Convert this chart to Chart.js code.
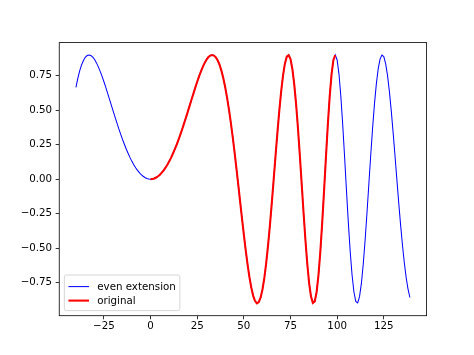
<!DOCTYPE html>
<html><head><meta charset="utf-8">
<script src="https://cdn.jsdelivr.net/npm/chart.js@4"></script>
<style>html,body{margin:0;padding:0;background:#fff}#wrap{width:474px;height:355px}</style>
</head><body><div id="wrap"><canvas id="c" width="474" height="355"></canvas></div>
<script>
// ---- data ----
const originalStart = 0;
const original = [0, 0.001, 0.005, 0.012, 0.021, 0.032, 0.047, 0.064, 0.083, 0.105,
  0.129, 0.156, 0.186, 0.217, 0.251, 0.287, 0.325, 0.364, 0.406, 0.448,
  0.491, 0.535, 0.579, 0.622, 0.665, 0.706, 0.745, 0.781, 0.814, 0.843,
  0.867, 0.885, 0.896, 0.900, 0.896, 0.883, 0.860, 0.828, 0.785, 0.731,
  0.666, 0.591, 0.506, 0.411, 0.308, 0.197, 0.080, -0.040, -0.163, -0.285,
  -0.403, -0.516, -0.619, -0.711, -0.787, -0.846, -0.884, -0.900, -0.891, -0.858,
  -0.798, -0.714, -0.606, -0.476, -0.330, -0.169, 0.000, 0.172, 0.339, 0.497,
  0.636, 0.752, 0.837, 0.888, 0.899, 0.870, 0.799, 0.689, 0.544, 0.369,
  0.173, -0.035, -0.244, -0.441, -0.615, -0.756, -0.852, -0.897, -0.886, -0.818,
  -0.695, -0.524, -0.315, -0.082, 0.160, 0.393, 0.598, 0.760, 0.864, 0.900];

const extensionStart = -40;
const evenExtension = [
  0.666, 0.731, 0.785, 0.828, 0.860, 0.883, 0.896, 0.900, 0.896, 0.885,
  0.867, 0.843, 0.814, 0.781, 0.745, 0.706, 0.665, 0.622, 0.579, 0.535,
  0.491, 0.448, 0.406, 0.364, 0.325, 0.287, 0.251, 0.217, 0.186, 0.156,
  0.129, 0.105, 0.083, 0.064, 0.047, 0.032, 0.021, 0.012, 0.005, 0.001,
  0, 0.001, 0.005, 0.012, 0.021, 0.032, 0.047, 0.064, 0.083, 0.105,
  0.129, 0.156, 0.186, 0.217, 0.251, 0.287, 0.325, 0.364, 0.406, 0.448,
  0.491, 0.535, 0.579, 0.622, 0.665, 0.706, 0.745, 0.781, 0.814, 0.843,
  0.867, 0.885, 0.896, 0.900, 0.896, 0.883, 0.860, 0.828, 0.785, 0.731,
  0.666, 0.591, 0.506, 0.411, 0.308, 0.197, 0.080, -0.040, -0.163, -0.285,
  -0.403, -0.516, -0.619, -0.711, -0.787, -0.846, -0.884, -0.900, -0.891, -0.858,
  -0.798, -0.714, -0.606, -0.476, -0.330, -0.169, 0.000, 0.172, 0.339, 0.497,
  0.636, 0.752, 0.837, 0.888, 0.899, 0.870, 0.799, 0.689, 0.544, 0.369,
  0.173, -0.035, -0.244, -0.441, -0.615, -0.756, -0.852, -0.897, -0.886, -0.818,
  -0.695, -0.524, -0.315, -0.082, 0.160, 0.393, 0.598, 0.760, 0.864, 0.900,
  0.864, 0.760, 0.598, 0.393, 0.160, -0.082, -0.315, -0.524, -0.695, -0.818,
  -0.886, -0.897, -0.852, -0.756, -0.615, -0.441, -0.244, -0.035, 0.173, 0.369,
  0.544, 0.689, 0.799, 0.870, 0.899, 0.888, 0.837, 0.752, 0.636, 0.497,
  0.339, 0.172, 0.000, -0.169, -0.330, -0.476, -0.606, -0.714, -0.798, -0.858];

const seriesLabels = ['even extension', 'original'];
const xTickValues = [-25, 0, 25, 50, 75, 100, 125];
const yTickValues = [-0.75, -0.5, -0.25, 0, 0.25, 0.5, 0.75];
const xRange = [-48.95, 147.95];
const yRange = [-0.99, 0.99];

// ---- rendering ----
const FONT = 'DejaVu Sans';
const FS = 10.28;
const BLUE = '#0000ff', RED = '#ff0000';
const toPoints = (arr, start) => arr.map((y, i) => ({ x: start + i, y }));

const framePlugin = {
  id: 'frame',
  afterDatasetsDraw(chart) {
    const { ctx, chartArea: a } = chart;
    ctx.save();
    ctx.strokeStyle = '#000';
    ctx.lineWidth = 0.8;
    ctx.strokeRect(a.left, a.top, a.right - a.left, a.bottom - a.top);

    // legend (lower left, inside axes)
    ctx.font = FS + 'px "' + FONT + '"';
    const tw = Math.max(...seriesLabels.map(s => ctx.measureText(s).width));
    const pad = 4.1, handle = 20.6, tpad = 8.2;
    const w = pad + handle + tpad + tw + pad;
    const h = 35.6;
    const x0 = a.left + 5.1;
    const y0 = a.bottom - 5.1 - h;
    ctx.beginPath();
    ctx.roundRect(x0, y0, w, h, 2);
    ctx.fillStyle = 'rgba(255,255,255,0.8)';
    ctx.fill();
    ctx.strokeStyle = '#cccccc';
    ctx.lineWidth = 0.8;
    ctx.stroke();
    const rows = [
      { y: y0 + 11.6, color: BLUE, lw: 1.03 },
      { y: y0 + 25.6, color: RED, lw: 2.06 }
    ];
    rows.forEach((r, i) => {
      ctx.beginPath();
      ctx.strokeStyle = r.color;
      ctx.lineWidth = r.lw;
      ctx.moveTo(x0 + pad, r.y);
      ctx.lineTo(x0 + pad + handle, r.y);
      ctx.stroke();
      ctx.fillStyle = '#000';
      ctx.textBaseline = 'middle';
      ctx.textAlign = 'left';
      ctx.fillText(seriesLabels[i], x0 + pad + handle + tpad, r.y + 0.5);
    });
    ctx.restore();
  }
};

const fmtY = v => (v < 0 ? '\u2212' : '') + Math.abs(v).toFixed(2);
const fmtX = v => (v < 0 ? '\u2212' : '') + Math.abs(v);

new Chart(document.getElementById('c'), {
  type: 'line',
  data: {
    datasets: [
      { label: seriesLabels[0], data: toPoints(evenExtension, extensionStart),
        borderColor: BLUE, borderWidth: 1.03, pointRadius: 0, tension: 0, fill: false, order: 1 },
      { label: seriesLabels[1], data: toPoints(original, originalStart),
        borderColor: RED, borderWidth: 2.06, pointRadius: 0, tension: 0, fill: false, order: 0 }
    ]
  },
  options: {
    responsive: false,
    animation: false,
    events: [],
    layout: { padding: { left: 0, right: 47.4, top: 42.6, bottom: 0 } },
    plugins: { legend: { display: false }, tooltip: { enabled: false } },
    scales: {
      x: {
        type: 'linear', min: xRange[0], max: xRange[1],
        afterBuildTicks: s => { s.ticks = xTickValues.map(v => ({ value: v })); },
        afterFit: s => { s.height = 39.3; },
        border: { display: false },
        grid: { drawOnChartArea: false, drawTicks: true, tickLength: 3.6, color: '#000', lineWidth: 0.8 },
        ticks: { color: '#000', font: { family: FONT, size: FS }, padding: 1, maxRotation: 0,
                 autoSkip: false, callback: v => fmtX(v) }
      },
      y: {
        type: 'linear', min: yRange[0], max: yRange[1],
        afterBuildTicks: s => { s.ticks = yTickValues.map(v => ({ value: v })); },
        afterFit: s => { s.width = 59.25; },
        border: { display: false },
        grid: { drawOnChartArea: false, drawTicks: true, tickLength: 3.6, color: '#000', lineWidth: 0.8 },
        ticks: { color: '#000', font: { family: FONT, size: FS }, padding: 3.5,
                 autoSkip: false, callback: v => fmtY(v) }
      }
    }
  },
  plugins: [framePlugin]
});
</script>
</body></html>
